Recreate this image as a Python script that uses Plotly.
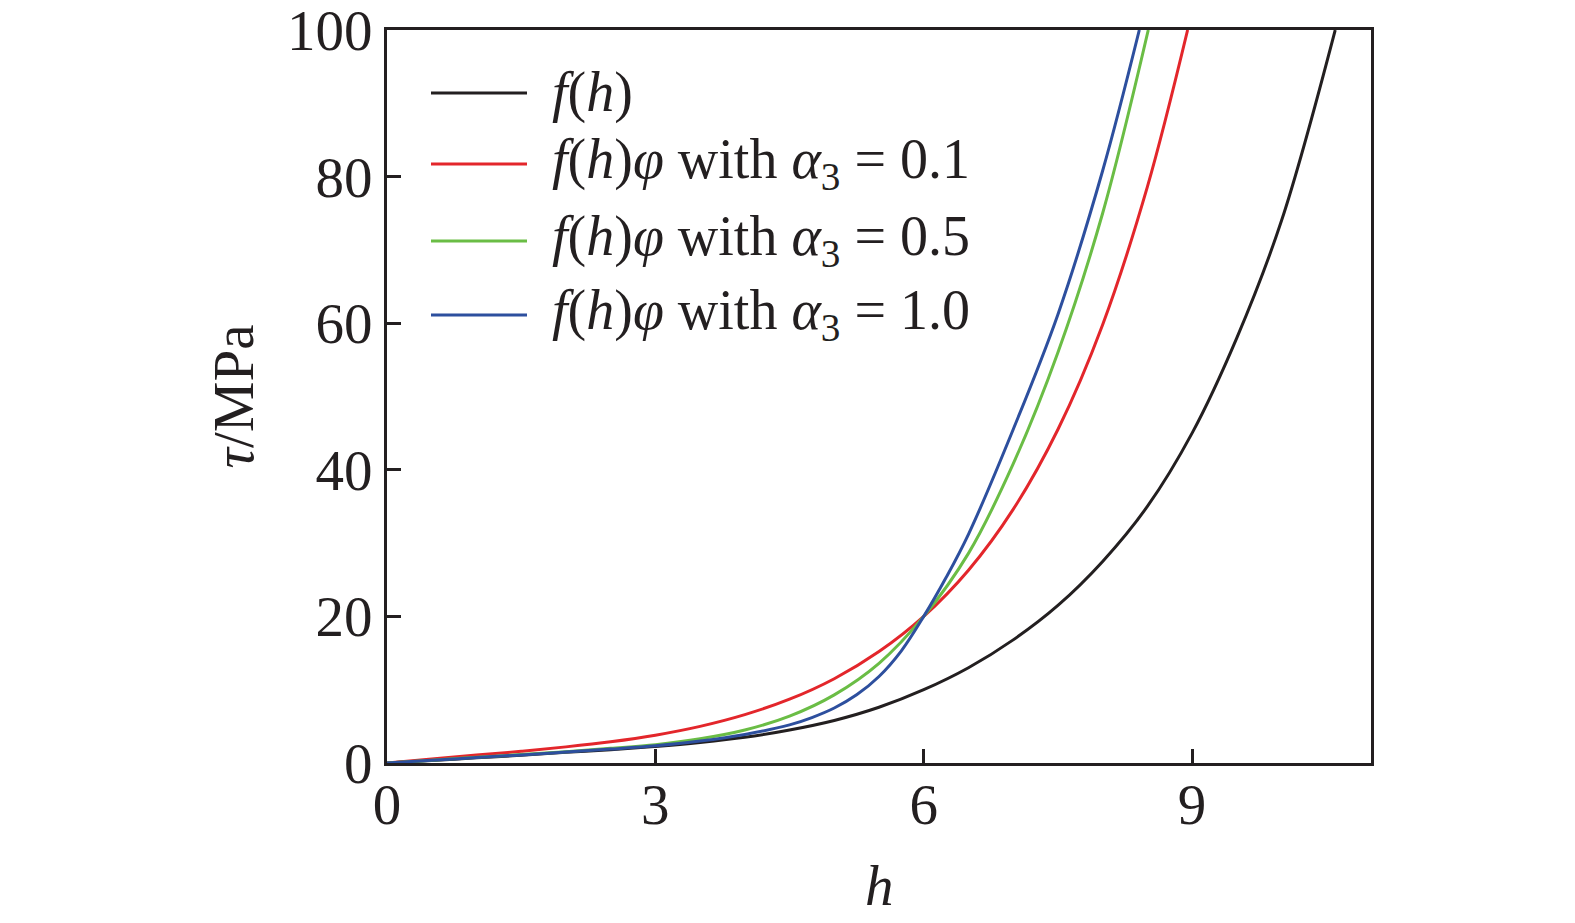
import plotly.graph_objects as go

# ---- data ----
f_h_x = [0, 0.5, 1, 1.5, 2, 2.5, 3, 3.5, 4, 4.5, 5, 5.5, 6, 6.5, 7, 7.5, 8, 8.5, 9, 9.5, 10, 10.6]
f_h_y = [0, 0.35, 0.7, 1.05, 1.45, 1.8, 2.25, 2.8, 3.5, 4.5, 5.8, 7.6, 10, 13, 16.8, 21.5, 27.5, 35, 45, 58, 74, 100]

a01_x = [0, 0.5, 1, 1.5, 2, 2.5, 3, 3.5, 4, 4.5, 5, 5.5, 6, 6.5, 7, 7.5, 8, 8.5, 8.95]
a01_y = [0, 0.55, 1.1, 1.6, 2.2, 2.9, 3.8, 5.0, 6.6, 8.7, 11.5, 15.2, 20, 26.3, 34.6, 45.5, 59.8, 78.6, 100]

a05_x = [0, 0.5, 1, 1.5, 2, 2.5, 3, 3.5, 4, 4.5, 5, 5.5, 6, 6.5, 7, 7.5, 8, 8.51]
a05_y = [0, 0.38, 0.78, 1.15, 1.55, 2.0, 2.5, 3.3, 4.5, 6.4, 9.3, 13.6, 20, 28.6, 40.8, 56, 75, 100]

a10_x = [0, 0.5, 1, 1.5, 2, 2.5, 3, 3.5, 4, 4.5, 4.75, 5, 5.25, 5.5, 5.75, 6, 6.25, 6.5, 7, 7.5, 8, 8.41]
a10_y = [0, 0.37, 0.75, 1.1, 1.5, 1.9, 2.35, 3.0, 3.9, 5.2, 6.2, 7.5, 9.3, 11.8, 15.3, 20, 25.3, 31.2, 45.5, 61.2, 80.8, 100]

series_names = ["f(h)", "f(h)φ with α3 = 0.1", "f(h)φ with α3 = 0.5", "f(h)φ with α3 = 1.0"]
legend_labels = [
    "<i>f</i>(<i>h</i>)",
    "<i>f</i>(<i>h</i>)<i>φ</i> with <i>α</i><sub>3</sub> = 0.1",
    "<i>f</i>(<i>h</i>)<i>φ</i> with <i>α</i><sub>3</sub> = 0.5",
    "<i>f</i>(<i>h</i>)<i>φ</i> with <i>α</i><sub>3</sub> = 1.0",
]
colors = ["#231f20", "#e3262b", "#6abd45", "#2d4f9e"]

x_ticks = [0, 3, 6, 9]
y_ticks = [0, 20, 40, 60, 80, 100]

FONT = "Liberation Serif, Times New Roman, serif"
FS = 57
TXT = "#231f20"

fig = go.Figure()
for xs, ys, name, c in zip([f_h_x, a01_x, a05_x, a10_x], [f_h_y, a01_y, a05_y, a10_y], series_names, colors):
    fig.add_trace(go.Scatter(x=xs, y=ys, mode="lines", name=name,
                             line=dict(color=c, width=3, shape="spline", smoothing=1.0),
                             showlegend=False))

W, H = 1575, 923
L, R, T, B = 387, 1575 - 1371, 30, 923 - 763
pw, ph = W - L - R, H - T - B

def px(xp):
    return (xp - L) / pw

def py(yp):
    return 1 - (yp - T) / ph

# manual legend
rows = [93, 164, 241, 315]
shapes = []
annotations = []
for yrow, c, lab in zip(rows, colors, legend_labels):
    shapes.append(dict(type="line", xref="paper", yref="paper",
                       x0=px(431), x1=px(527), y0=py(yrow), y1=py(yrow),
                       line=dict(color=c, width=3)))
    annotations.append(dict(xref="paper", yref="paper", x=px(550), y=py(yrow - 1),
                            xanchor="left", yanchor="middle", showarrow=False,
                            text=lab, font=dict(family=FONT, size=56, color=TXT)))

annotations.append(dict(xref="paper", yref="paper", x=0.5, y=py(885), xanchor="center", yanchor="middle",
                        showarrow=False, text="<i>h</i>", font=dict(family=FONT, size=FS, color=TXT)))
annotations.append(dict(xref="paper", yref="paper", x=px(233), y=0.5, xanchor="center", yanchor="middle",
                        showarrow=False, textangle=-90, text="<i>τ</i>/MPa",
                        font=dict(family=FONT, size=FS, color=TXT)))

axis_common = dict(showgrid=False, zeroline=False, showline=True, mirror=True, automargin=False,
                   linecolor=TXT, linewidth=3, ticks="inside", ticklen=14,
                   tickwidth=3, tickcolor=TXT, ticklabeloverflow="allow",
                   tickfont=dict(family=FONT, size=FS, color=TXT))

fig.update_layout(
    width=W, height=H,
    margin=dict(l=L, r=R, t=T, b=B),
    paper_bgcolor="white", plot_bgcolor="white",
    xaxis=dict(range=[0, 11], tickvals=x_ticks, ticktext=[str(v) for v in x_ticks],
               ticklabelstandoff=-10, **axis_common),
    yaxis=dict(range=[0, 100], tickvals=y_ticks, ticktext=[str(v) for v in y_ticks], **axis_common),
    shapes=shapes,
    annotations=annotations,
)

fig.write_html("out.html")
